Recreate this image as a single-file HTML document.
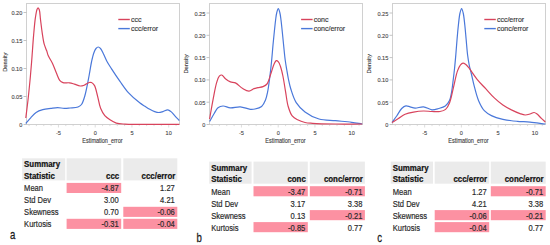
<!DOCTYPE html>
<html><head><meta charset="utf-8"><style>
html,body{margin:0;padding:0;background:#fff;width:550px;height:245px;overflow:hidden}
svg{display:block;font-family:"Liberation Sans", sans-serif}
</style></head><body>
<svg width="550" height="245" viewBox="0 0 550 245">
<rect x="26.5" y="3.5" width="153.0" height="121.0" fill="none" stroke="#d0d0d0" stroke-width="1"/>
<line x1="23.5" y1="124.50" x2="26.5" y2="124.50" stroke="#b5b5b5" stroke-width="0.8"/>
<text transform="translate(22.30,127.00) scale(1.000,1.100)" font-size="5.60" fill="#4a4a4a" text-anchor="end" stroke="#4a4a4a" stroke-width="0.12">0</text>
<line x1="23.5" y1="96.50" x2="26.5" y2="96.50" stroke="#b5b5b5" stroke-width="0.8"/>
<text transform="translate(22.30,99.00) scale(1.000,1.100)" font-size="5.60" fill="#4a4a4a" text-anchor="end" stroke="#4a4a4a" stroke-width="0.12">0.05</text>
<line x1="23.5" y1="68.50" x2="26.5" y2="68.50" stroke="#b5b5b5" stroke-width="0.8"/>
<text transform="translate(22.30,71.00) scale(1.000,1.100)" font-size="5.60" fill="#4a4a4a" text-anchor="end" stroke="#4a4a4a" stroke-width="0.12">0.10</text>
<line x1="23.5" y1="40.50" x2="26.5" y2="40.50" stroke="#b5b5b5" stroke-width="0.8"/>
<text transform="translate(22.30,43.00) scale(1.000,1.100)" font-size="5.60" fill="#4a4a4a" text-anchor="end" stroke="#4a4a4a" stroke-width="0.12">0.15</text>
<line x1="23.5" y1="12.50" x2="26.5" y2="12.50" stroke="#b5b5b5" stroke-width="0.8"/>
<text transform="translate(22.30,15.00) scale(1.000,1.100)" font-size="5.60" fill="#4a4a4a" text-anchor="end" stroke="#4a4a4a" stroke-width="0.12">0.20</text>
<line x1="29.05" y1="124.5" x2="29.05" y2="126.1" stroke="#cfcfcf" stroke-width="0.7"/>
<line x1="36.40" y1="124.5" x2="36.40" y2="126.1" stroke="#cfcfcf" stroke-width="0.7"/>
<line x1="43.75" y1="124.5" x2="43.75" y2="126.1" stroke="#cfcfcf" stroke-width="0.7"/>
<line x1="51.10" y1="124.5" x2="51.10" y2="126.1" stroke="#cfcfcf" stroke-width="0.7"/>
<line x1="58.45" y1="124.5" x2="58.45" y2="127.5" stroke="#cfcfcf" stroke-width="0.7"/>
<line x1="65.80" y1="124.5" x2="65.80" y2="126.1" stroke="#cfcfcf" stroke-width="0.7"/>
<line x1="73.15" y1="124.5" x2="73.15" y2="126.1" stroke="#cfcfcf" stroke-width="0.7"/>
<line x1="80.50" y1="124.5" x2="80.50" y2="126.1" stroke="#cfcfcf" stroke-width="0.7"/>
<line x1="87.85" y1="124.5" x2="87.85" y2="126.1" stroke="#cfcfcf" stroke-width="0.7"/>
<line x1="95.20" y1="124.5" x2="95.20" y2="127.5" stroke="#cfcfcf" stroke-width="0.7"/>
<line x1="102.55" y1="124.5" x2="102.55" y2="126.1" stroke="#cfcfcf" stroke-width="0.7"/>
<line x1="109.90" y1="124.5" x2="109.90" y2="126.1" stroke="#cfcfcf" stroke-width="0.7"/>
<line x1="117.25" y1="124.5" x2="117.25" y2="126.1" stroke="#cfcfcf" stroke-width="0.7"/>
<line x1="124.60" y1="124.5" x2="124.60" y2="126.1" stroke="#cfcfcf" stroke-width="0.7"/>
<line x1="131.95" y1="124.5" x2="131.95" y2="127.5" stroke="#cfcfcf" stroke-width="0.7"/>
<line x1="139.30" y1="124.5" x2="139.30" y2="126.1" stroke="#cfcfcf" stroke-width="0.7"/>
<line x1="146.65" y1="124.5" x2="146.65" y2="126.1" stroke="#cfcfcf" stroke-width="0.7"/>
<line x1="154.00" y1="124.5" x2="154.00" y2="126.1" stroke="#cfcfcf" stroke-width="0.7"/>
<line x1="161.35" y1="124.5" x2="161.35" y2="126.1" stroke="#cfcfcf" stroke-width="0.7"/>
<line x1="168.70" y1="124.5" x2="168.70" y2="127.5" stroke="#cfcfcf" stroke-width="0.7"/>
<line x1="176.05" y1="124.5" x2="176.05" y2="126.1" stroke="#cfcfcf" stroke-width="0.7"/>
<text transform="translate(58.45,134.50) scale(1.000,1.100)" font-size="5.60" fill="#4a4a4a" text-anchor="middle" stroke="#4a4a4a" stroke-width="0.12">-5</text>
<text transform="translate(95.20,134.50) scale(1.000,1.100)" font-size="5.60" fill="#4a4a4a" text-anchor="middle" stroke="#4a4a4a" stroke-width="0.12">0</text>
<text transform="translate(131.95,134.50) scale(1.000,1.100)" font-size="5.60" fill="#4a4a4a" text-anchor="middle" stroke="#4a4a4a" stroke-width="0.12">5</text>
<text transform="translate(168.70,134.50) scale(1.000,1.100)" font-size="5.60" fill="#4a4a4a" text-anchor="middle" stroke="#4a4a4a" stroke-width="0.12">10</text>
<text transform="translate(102.40,142.80) scale(0.875,1.100)" font-size="6.30" fill="#3a3a3a" text-anchor="middle" stroke="#4a4a4a" stroke-width="0.12">Estimation_error</text>
<text x="0" y="0" font-size="5.8" fill="#3a3a3a" stroke="#3a3a3a" stroke-width="0.12" text-anchor="middle" transform="translate(6.5,62.2) rotate(-90)">Density</text>
<path d="M25.80,123.50 C27.43,121.60 28.99,119.64 30.70,117.80 C32.42,115.94 34.05,113.76 36.10,112.40 C38.10,111.08 40.42,110.36 42.80,109.70 C45.33,109.00 48.32,108.76 50.90,108.40 C53.24,108.07 55.37,107.60 57.60,107.60 C59.83,107.60 62.15,108.35 64.30,108.40 C66.27,108.45 67.94,108.20 70.00,108.00 C72.44,107.76 75.95,107.80 78.00,107.00 C79.50,106.42 80.50,105.79 81.50,104.50 C82.95,102.63 83.76,99.52 84.80,96.00 C86.40,90.61 88.01,81.17 89.20,75.00 C90.14,70.16 90.65,65.92 91.50,62.00 C92.21,58.71 92.90,55.45 93.80,53.00 C94.46,51.20 95.11,49.53 96.00,48.50 C96.65,47.75 97.46,47.01 98.20,47.00 C98.96,46.99 99.78,47.72 100.50,48.50 C101.60,49.68 102.49,52.01 103.50,54.00 C104.66,56.29 105.69,59.07 107.00,61.50 C108.32,63.94 109.66,65.91 111.40,68.60 C113.76,72.26 117.08,77.28 120.00,81.40 C122.82,85.37 125.33,89.33 128.60,92.90 C131.97,96.58 136.92,100.74 140.00,103.10 C141.91,104.56 143.26,105.26 144.90,106.30 C146.53,107.33 148.14,108.41 149.80,109.30 C151.41,110.17 153.11,111.06 154.70,111.60 C156.10,112.08 157.43,112.50 158.80,112.50 C160.17,112.50 161.48,112.00 162.90,111.60 C164.47,111.16 166.36,109.79 167.80,109.90 C169.00,109.99 169.94,110.78 171.00,111.60 C172.38,112.67 173.72,114.62 175.10,116.10 C176.48,117.58 177.90,119.03 179.30,120.50" fill="none" stroke="#4a78da" stroke-width="1.20" stroke-linejoin="round"/>
<path d="M25.80,118.00 C26.53,112.00 27.32,106.04 28.00,100.00 C28.69,93.88 29.31,87.75 29.90,81.50 C30.51,75.09 31.03,69.01 31.60,62.00 C32.26,53.82 32.90,43.36 33.60,35.40 C34.18,28.90 34.68,22.52 35.40,17.70 C35.91,14.34 36.41,10.80 37.10,9.20 C37.41,8.49 37.76,7.79 38.10,7.80 C38.49,7.82 38.97,8.83 39.30,9.80 C39.98,11.78 40.06,16.01 40.50,19.50 C41.01,23.58 41.56,28.54 42.20,32.80 C42.80,36.75 43.31,40.95 44.20,44.20 C44.90,46.74 45.98,48.74 46.70,50.80 C47.32,52.57 47.53,54.01 48.30,55.80 C49.28,58.07 51.12,60.52 52.40,63.20 C53.84,66.20 55.10,69.98 56.40,73.00 C57.53,75.62 58.34,78.66 59.70,80.30 C60.67,81.46 61.63,82.15 63.00,82.60 C64.74,83.18 67.50,82.51 69.50,82.80 C71.26,83.06 72.71,83.60 74.40,84.10 C76.24,84.65 78.34,85.89 80.10,86.00 C81.57,86.09 82.81,85.70 84.20,85.20 C85.81,84.62 87.72,82.86 89.10,82.50 C90.01,82.27 90.73,82.18 91.50,82.50 C92.51,82.92 93.56,83.99 94.40,85.40 C95.77,87.69 96.51,92.16 97.50,95.80 C98.58,99.76 99.18,104.77 100.60,108.30 C101.75,111.15 103.11,113.62 104.80,115.60 C106.30,117.36 108.12,118.56 110.00,119.80 C111.94,121.07 113.96,122.38 116.30,123.10 C118.90,123.90 121.70,123.89 125.00,124.10 C129.32,124.38 133.82,124.26 140.00,124.30 C150.01,124.37 166.20,124.30 179.30,124.30" fill="none" stroke="#d8435c" stroke-width="1.20" stroke-linejoin="round"/>
<line x1="118.3" y1="19.5" x2="129.8" y2="19.5" stroke="#d8435c" stroke-width="1.4"/>
<line x1="118.3" y1="28.6" x2="129.8" y2="28.6" stroke="#4a78da" stroke-width="1.4"/>
<text transform="translate(130.90,21.90) scale(1.000,1.140)" font-size="7.00" fill="#3a3a3a" stroke="#3a3a3a" stroke-width="0.15">ccc</text>
<text transform="translate(130.90,31.00) scale(1.000,1.140)" font-size="7.00" fill="#3a3a3a" stroke="#3a3a3a" stroke-width="0.15">ccc/error</text>
<rect x="209.5" y="3.5" width="153.0" height="121.0" fill="none" stroke="#d0d0d0" stroke-width="1"/>
<line x1="206.5" y1="124.50" x2="209.5" y2="124.50" stroke="#b5b5b5" stroke-width="0.8"/>
<text transform="translate(205.30,127.00) scale(1.000,1.100)" font-size="5.60" fill="#4a4a4a" text-anchor="end" stroke="#4a4a4a" stroke-width="0.12">0</text>
<line x1="206.5" y1="102.20" x2="209.5" y2="102.20" stroke="#b5b5b5" stroke-width="0.8"/>
<text transform="translate(205.30,104.70) scale(1.000,1.100)" font-size="5.60" fill="#4a4a4a" text-anchor="end" stroke="#4a4a4a" stroke-width="0.12">0.05</text>
<line x1="206.5" y1="79.90" x2="209.5" y2="79.90" stroke="#b5b5b5" stroke-width="0.8"/>
<text transform="translate(205.30,82.40) scale(1.000,1.100)" font-size="5.60" fill="#4a4a4a" text-anchor="end" stroke="#4a4a4a" stroke-width="0.12">0.10</text>
<line x1="206.5" y1="57.60" x2="209.5" y2="57.60" stroke="#b5b5b5" stroke-width="0.8"/>
<text transform="translate(205.30,60.10) scale(1.000,1.100)" font-size="5.60" fill="#4a4a4a" text-anchor="end" stroke="#4a4a4a" stroke-width="0.12">0.15</text>
<line x1="206.5" y1="35.30" x2="209.5" y2="35.30" stroke="#b5b5b5" stroke-width="0.8"/>
<text transform="translate(205.30,37.80) scale(1.000,1.100)" font-size="5.60" fill="#4a4a4a" text-anchor="end" stroke="#4a4a4a" stroke-width="0.12">0.20</text>
<line x1="206.5" y1="13.00" x2="209.5" y2="13.00" stroke="#b5b5b5" stroke-width="0.8"/>
<text transform="translate(205.30,15.50) scale(1.000,1.100)" font-size="5.60" fill="#4a4a4a" text-anchor="end" stroke="#4a4a4a" stroke-width="0.12">0.25</text>
<line x1="212.05" y1="124.5" x2="212.05" y2="126.1" stroke="#cfcfcf" stroke-width="0.7"/>
<line x1="219.40" y1="124.5" x2="219.40" y2="126.1" stroke="#cfcfcf" stroke-width="0.7"/>
<line x1="226.75" y1="124.5" x2="226.75" y2="126.1" stroke="#cfcfcf" stroke-width="0.7"/>
<line x1="234.10" y1="124.5" x2="234.10" y2="126.1" stroke="#cfcfcf" stroke-width="0.7"/>
<line x1="241.45" y1="124.5" x2="241.45" y2="127.5" stroke="#cfcfcf" stroke-width="0.7"/>
<line x1="248.80" y1="124.5" x2="248.80" y2="126.1" stroke="#cfcfcf" stroke-width="0.7"/>
<line x1="256.15" y1="124.5" x2="256.15" y2="126.1" stroke="#cfcfcf" stroke-width="0.7"/>
<line x1="263.50" y1="124.5" x2="263.50" y2="126.1" stroke="#cfcfcf" stroke-width="0.7"/>
<line x1="270.85" y1="124.5" x2="270.85" y2="126.1" stroke="#cfcfcf" stroke-width="0.7"/>
<line x1="278.20" y1="124.5" x2="278.20" y2="127.5" stroke="#cfcfcf" stroke-width="0.7"/>
<line x1="285.55" y1="124.5" x2="285.55" y2="126.1" stroke="#cfcfcf" stroke-width="0.7"/>
<line x1="292.90" y1="124.5" x2="292.90" y2="126.1" stroke="#cfcfcf" stroke-width="0.7"/>
<line x1="300.25" y1="124.5" x2="300.25" y2="126.1" stroke="#cfcfcf" stroke-width="0.7"/>
<line x1="307.60" y1="124.5" x2="307.60" y2="126.1" stroke="#cfcfcf" stroke-width="0.7"/>
<line x1="314.95" y1="124.5" x2="314.95" y2="127.5" stroke="#cfcfcf" stroke-width="0.7"/>
<line x1="322.30" y1="124.5" x2="322.30" y2="126.1" stroke="#cfcfcf" stroke-width="0.7"/>
<line x1="329.65" y1="124.5" x2="329.65" y2="126.1" stroke="#cfcfcf" stroke-width="0.7"/>
<line x1="337.00" y1="124.5" x2="337.00" y2="126.1" stroke="#cfcfcf" stroke-width="0.7"/>
<line x1="344.35" y1="124.5" x2="344.35" y2="126.1" stroke="#cfcfcf" stroke-width="0.7"/>
<line x1="351.70" y1="124.5" x2="351.70" y2="127.5" stroke="#cfcfcf" stroke-width="0.7"/>
<line x1="359.05" y1="124.5" x2="359.05" y2="126.1" stroke="#cfcfcf" stroke-width="0.7"/>
<text transform="translate(241.45,134.50) scale(1.000,1.100)" font-size="5.60" fill="#4a4a4a" text-anchor="middle" stroke="#4a4a4a" stroke-width="0.12">-5</text>
<text transform="translate(278.20,134.50) scale(1.000,1.100)" font-size="5.60" fill="#4a4a4a" text-anchor="middle" stroke="#4a4a4a" stroke-width="0.12">0</text>
<text transform="translate(314.95,134.50) scale(1.000,1.100)" font-size="5.60" fill="#4a4a4a" text-anchor="middle" stroke="#4a4a4a" stroke-width="0.12">5</text>
<text transform="translate(351.70,134.50) scale(1.000,1.100)" font-size="5.60" fill="#4a4a4a" text-anchor="middle" stroke="#4a4a4a" stroke-width="0.12">10</text>
<text transform="translate(285.40,142.80) scale(0.875,1.100)" font-size="6.30" fill="#3a3a3a" text-anchor="middle" stroke="#4a4a4a" stroke-width="0.12">Estimation_error</text>
<text x="0" y="0" font-size="5.8" fill="#3a3a3a" stroke="#3a3a3a" stroke-width="0.12" text-anchor="middle" transform="translate(188.2,63.9) rotate(-90)">Density</text>
<path d="M209.60,121.50 C211.13,118.83 212.70,115.92 214.20,113.50 C215.49,111.42 216.40,109.05 218.00,107.80 C219.41,106.70 221.15,106.10 223.00,106.00 C225.21,105.88 227.74,107.62 230.40,107.80 C233.44,108.01 237.01,106.56 240.30,106.80 C243.65,107.04 247.57,109.05 250.30,109.30 C252.14,109.47 253.33,109.36 255.00,109.00 C257.04,108.56 259.86,107.95 261.60,106.50 C263.40,105.00 264.51,102.36 265.50,100.00 C266.54,97.54 266.98,95.03 267.60,92.00 C268.40,88.12 268.98,83.31 269.60,78.60 C270.29,73.37 270.94,67.57 271.50,62.00 C272.07,56.37 272.50,50.29 273.00,45.00 C273.44,40.38 273.86,36.25 274.30,32.00 C274.73,27.92 275.13,23.53 275.60,20.00 C275.98,17.20 276.24,14.57 276.80,12.50 C277.21,10.96 277.80,8.60 278.30,8.60 C278.80,8.60 279.39,10.96 279.80,12.50 C280.36,14.57 280.62,17.20 281.00,20.00 C281.47,23.53 281.87,27.92 282.30,32.00 C282.74,36.25 283.14,40.51 283.60,45.00 C284.10,49.82 284.60,55.51 285.20,60.00 C285.69,63.68 286.25,66.76 286.80,70.00 C287.32,73.08 287.75,75.91 288.40,79.00 C289.10,82.33 289.75,85.69 290.90,89.30 C292.24,93.50 293.75,98.76 296.20,102.60 C298.52,106.23 301.46,109.26 305.00,111.90 C308.92,114.83 314.00,117.53 319.00,119.00 C324.12,120.51 329.94,120.15 335.40,120.70 C340.84,121.25 346.87,121.67 351.70,122.30 C355.59,122.81 358.70,123.43 362.20,124.00" fill="none" stroke="#4a78da" stroke-width="1.20" stroke-linejoin="round"/>
<path d="M209.60,119.00 C210.73,112.60 211.79,106.03 213.00,99.80 C214.16,93.85 215.36,86.69 216.70,82.40 C217.53,79.76 218.19,77.39 219.30,76.20 C220.00,75.45 220.87,74.86 221.70,75.00 C222.87,75.19 224.01,77.58 225.40,78.70 C226.88,79.89 228.67,81.20 230.40,81.90 C232.01,82.55 233.67,82.11 235.40,82.90 C237.75,83.97 240.35,87.20 242.80,88.60 C244.88,89.79 247.06,91.18 249.00,91.10 C250.77,91.03 252.39,89.19 254.00,88.60 C255.38,88.09 256.59,87.92 258.00,87.60 C259.57,87.25 261.48,87.22 263.00,86.60 C264.47,86.00 265.85,85.43 267.00,84.00 C268.78,81.79 269.78,76.75 271.00,73.30 C272.13,70.10 273.00,66.29 274.10,64.00 C274.81,62.53 275.47,60.80 276.30,60.60 C276.94,60.44 277.79,61.13 278.40,61.80 C279.29,62.78 279.85,64.63 280.50,66.50 C281.40,69.08 282.14,72.41 282.90,76.00 C283.87,80.60 284.70,86.71 285.60,91.90 C286.46,96.87 286.93,102.23 288.20,106.50 C289.25,110.04 290.37,113.61 292.20,115.90 C293.68,117.75 295.58,118.73 297.60,119.80 C299.80,120.97 302.49,121.92 305.00,122.50 C307.46,123.07 309.31,123.08 312.50,123.30 C318.05,123.68 327.47,123.88 335.40,124.00 C343.98,124.13 353.27,124.00 362.20,124.00" fill="none" stroke="#d8435c" stroke-width="1.20" stroke-linejoin="round"/>
<line x1="301.1" y1="19.5" x2="312.6" y2="19.5" stroke="#d8435c" stroke-width="1.4"/>
<line x1="301.1" y1="28.6" x2="312.6" y2="28.6" stroke="#4a78da" stroke-width="1.4"/>
<text transform="translate(313.70,21.90) scale(1.000,1.140)" font-size="7.00" fill="#3a3a3a" stroke="#3a3a3a" stroke-width="0.15">conc</text>
<text transform="translate(313.70,31.00) scale(1.000,1.140)" font-size="7.00" fill="#3a3a3a" stroke="#3a3a3a" stroke-width="0.15">conc/error</text>
<rect x="392.5" y="3.5" width="153.0" height="121.0" fill="none" stroke="#d0d0d0" stroke-width="1"/>
<line x1="389.5" y1="124.50" x2="392.5" y2="124.50" stroke="#b5b5b5" stroke-width="0.8"/>
<text transform="translate(388.30,127.00) scale(1.000,1.100)" font-size="5.60" fill="#4a4a4a" text-anchor="end" stroke="#4a4a4a" stroke-width="0.12">0</text>
<line x1="389.5" y1="102.20" x2="392.5" y2="102.20" stroke="#b5b5b5" stroke-width="0.8"/>
<text transform="translate(388.30,104.70) scale(1.000,1.100)" font-size="5.60" fill="#4a4a4a" text-anchor="end" stroke="#4a4a4a" stroke-width="0.12">0.05</text>
<line x1="389.5" y1="79.90" x2="392.5" y2="79.90" stroke="#b5b5b5" stroke-width="0.8"/>
<text transform="translate(388.30,82.40) scale(1.000,1.100)" font-size="5.60" fill="#4a4a4a" text-anchor="end" stroke="#4a4a4a" stroke-width="0.12">0.10</text>
<line x1="389.5" y1="57.60" x2="392.5" y2="57.60" stroke="#b5b5b5" stroke-width="0.8"/>
<text transform="translate(388.30,60.10) scale(1.000,1.100)" font-size="5.60" fill="#4a4a4a" text-anchor="end" stroke="#4a4a4a" stroke-width="0.12">0.15</text>
<line x1="389.5" y1="35.30" x2="392.5" y2="35.30" stroke="#b5b5b5" stroke-width="0.8"/>
<text transform="translate(388.30,37.80) scale(1.000,1.100)" font-size="5.60" fill="#4a4a4a" text-anchor="end" stroke="#4a4a4a" stroke-width="0.12">0.20</text>
<line x1="389.5" y1="13.00" x2="392.5" y2="13.00" stroke="#b5b5b5" stroke-width="0.8"/>
<text transform="translate(388.30,15.50) scale(1.000,1.100)" font-size="5.60" fill="#4a4a4a" text-anchor="end" stroke="#4a4a4a" stroke-width="0.12">0.25</text>
<line x1="395.25" y1="124.5" x2="395.25" y2="126.1" stroke="#cfcfcf" stroke-width="0.7"/>
<line x1="402.60" y1="124.5" x2="402.60" y2="126.1" stroke="#cfcfcf" stroke-width="0.7"/>
<line x1="409.95" y1="124.5" x2="409.95" y2="126.1" stroke="#cfcfcf" stroke-width="0.7"/>
<line x1="417.30" y1="124.5" x2="417.30" y2="126.1" stroke="#cfcfcf" stroke-width="0.7"/>
<line x1="424.65" y1="124.5" x2="424.65" y2="127.5" stroke="#cfcfcf" stroke-width="0.7"/>
<line x1="432.00" y1="124.5" x2="432.00" y2="126.1" stroke="#cfcfcf" stroke-width="0.7"/>
<line x1="439.35" y1="124.5" x2="439.35" y2="126.1" stroke="#cfcfcf" stroke-width="0.7"/>
<line x1="446.70" y1="124.5" x2="446.70" y2="126.1" stroke="#cfcfcf" stroke-width="0.7"/>
<line x1="454.05" y1="124.5" x2="454.05" y2="126.1" stroke="#cfcfcf" stroke-width="0.7"/>
<line x1="461.40" y1="124.5" x2="461.40" y2="127.5" stroke="#cfcfcf" stroke-width="0.7"/>
<line x1="468.75" y1="124.5" x2="468.75" y2="126.1" stroke="#cfcfcf" stroke-width="0.7"/>
<line x1="476.10" y1="124.5" x2="476.10" y2="126.1" stroke="#cfcfcf" stroke-width="0.7"/>
<line x1="483.45" y1="124.5" x2="483.45" y2="126.1" stroke="#cfcfcf" stroke-width="0.7"/>
<line x1="490.80" y1="124.5" x2="490.80" y2="126.1" stroke="#cfcfcf" stroke-width="0.7"/>
<line x1="498.15" y1="124.5" x2="498.15" y2="127.5" stroke="#cfcfcf" stroke-width="0.7"/>
<line x1="505.50" y1="124.5" x2="505.50" y2="126.1" stroke="#cfcfcf" stroke-width="0.7"/>
<line x1="512.85" y1="124.5" x2="512.85" y2="126.1" stroke="#cfcfcf" stroke-width="0.7"/>
<line x1="520.20" y1="124.5" x2="520.20" y2="126.1" stroke="#cfcfcf" stroke-width="0.7"/>
<line x1="527.55" y1="124.5" x2="527.55" y2="126.1" stroke="#cfcfcf" stroke-width="0.7"/>
<line x1="534.90" y1="124.5" x2="534.90" y2="127.5" stroke="#cfcfcf" stroke-width="0.7"/>
<line x1="542.25" y1="124.5" x2="542.25" y2="126.1" stroke="#cfcfcf" stroke-width="0.7"/>
<text transform="translate(424.65,134.50) scale(1.000,1.100)" font-size="5.60" fill="#4a4a4a" text-anchor="middle" stroke="#4a4a4a" stroke-width="0.12">-5</text>
<text transform="translate(461.40,134.50) scale(1.000,1.100)" font-size="5.60" fill="#4a4a4a" text-anchor="middle" stroke="#4a4a4a" stroke-width="0.12">0</text>
<text transform="translate(498.15,134.50) scale(1.000,1.100)" font-size="5.60" fill="#4a4a4a" text-anchor="middle" stroke="#4a4a4a" stroke-width="0.12">5</text>
<text transform="translate(534.90,134.50) scale(1.000,1.100)" font-size="5.60" fill="#4a4a4a" text-anchor="middle" stroke="#4a4a4a" stroke-width="0.12">10</text>
<text transform="translate(468.40,142.80) scale(0.875,1.100)" font-size="6.30" fill="#3a3a3a" text-anchor="middle" stroke="#4a4a4a" stroke-width="0.12">Estimation_error</text>
<text x="0" y="0" font-size="5.8" fill="#3a3a3a" stroke="#3a3a3a" stroke-width="0.12" text-anchor="middle" transform="translate(371.4,63.8) rotate(-90)">Density</text>
<path d="M392.00,122.50 C393.57,120.33 395.13,118.26 396.70,116.00 C398.36,113.60 399.90,110.24 401.70,108.50 C403.03,107.21 404.45,106.15 405.90,105.90 C407.25,105.67 408.64,106.45 410.10,106.80 C411.70,107.18 413.21,108.00 415.10,108.10 C417.53,108.22 420.73,106.54 423.50,106.80 C426.33,107.07 429.23,109.60 431.90,109.80 C434.23,109.98 436.39,109.14 438.60,108.50 C440.86,107.85 443.47,107.26 445.30,105.90 C447.08,104.57 448.47,102.63 449.50,100.50 C450.67,98.09 451.01,95.09 451.60,92.00 C452.29,88.36 452.70,84.00 453.20,80.00 C453.70,76.00 454.17,72.08 454.60,68.00 C455.04,63.76 455.41,59.49 455.80,55.00 C456.22,50.18 456.57,45.00 457.00,40.00 C457.43,35.00 457.87,29.72 458.40,25.00 C458.88,20.77 459.27,15.99 460.00,13.00 C460.46,11.14 461.07,8.60 461.60,8.60 C462.13,8.60 462.74,11.14 463.20,13.00 C463.93,15.99 464.32,20.77 464.80,25.00 C465.33,29.72 465.73,35.00 466.20,40.00 C466.67,45.00 467.03,50.51 467.60,55.00 C468.07,58.68 468.55,61.77 469.20,65.00 C469.82,68.09 470.62,70.76 471.40,74.00 C472.31,77.80 473.16,82.14 474.30,86.40 C475.53,91.02 476.78,96.45 478.60,100.70 C480.20,104.43 481.95,108.14 484.30,110.70 C486.33,112.91 488.63,114.24 491.40,115.60 C494.67,117.21 498.82,118.36 502.90,119.30 C507.34,120.32 512.47,120.83 517.10,121.30 C521.49,121.75 525.52,121.68 530.00,122.10 C534.89,122.55 540.20,123.37 545.30,124.00" fill="none" stroke="#4a78da" stroke-width="1.20" stroke-linejoin="round"/>
<path d="M392.00,122.50 C394.13,121.17 396.24,119.85 398.40,118.50 C400.61,117.12 402.65,115.36 405.10,114.30 C407.66,113.19 410.56,112.64 413.50,112.10 C416.67,111.51 420.31,111.08 423.50,111.00 C426.42,110.93 429.12,111.42 431.90,111.50 C434.62,111.58 437.58,111.94 440.00,111.50 C442.08,111.12 444.06,110.69 445.60,109.40 C447.36,107.93 448.44,105.51 449.60,102.70 C451.29,98.62 452.28,92.10 453.60,86.80 C454.92,81.50 456.05,74.90 457.50,70.90 C458.44,68.33 459.35,66.12 460.50,64.80 C461.27,63.92 462.14,63.18 463.00,63.10 C463.81,63.03 464.69,63.64 465.50,64.20 C466.50,64.90 467.24,65.81 468.40,67.20 C470.60,69.83 474.10,75.60 477.10,79.30 C479.88,82.72 482.82,85.59 485.70,88.70 C488.56,91.79 491.34,95.12 494.30,97.90 C497.08,100.52 499.95,102.96 502.90,105.00 C505.66,106.92 508.52,108.45 511.40,109.90 C514.22,111.31 517.46,112.72 520.00,113.60 C521.92,114.27 523.50,114.95 525.20,115.00 C526.83,115.05 528.48,114.43 530.00,114.00 C531.44,113.59 532.86,112.41 534.10,112.50 C535.20,112.58 536.07,113.34 537.10,114.10 C538.48,115.12 539.99,117.04 541.40,118.40 C542.72,119.67 544.00,120.80 545.30,122.00" fill="none" stroke="#d8435c" stroke-width="1.20" stroke-linejoin="round"/>
<line x1="484.3" y1="19.5" x2="495.8" y2="19.5" stroke="#d8435c" stroke-width="1.4"/>
<line x1="484.3" y1="28.6" x2="495.8" y2="28.6" stroke="#4a78da" stroke-width="1.4"/>
<text transform="translate(496.90,21.90) scale(1.000,1.140)" font-size="7.00" fill="#3a3a3a" stroke="#3a3a3a" stroke-width="0.15">ccc/error</text>
<text transform="translate(496.90,31.00) scale(1.000,1.140)" font-size="7.00" fill="#3a3a3a" stroke="#3a3a3a" stroke-width="0.15">conc/error</text>
<rect x="22.1" y="158.3" width="43.1" height="22.1" fill="#ebebeb"/>
<rect x="66.6" y="158.3" width="54.6" height="22.1" fill="#ebebeb"/>
<rect x="123.3" y="158.3" width="54.0" height="22.1" fill="#ebebeb"/>
<text transform="translate(24.10,167.40) scale(0.940,1.050)" font-size="8.40" fill="#111" font-weight="bold" stroke="#111" stroke-width="0.2">Summary</text>
<text transform="translate(24.10,178.80) scale(0.940,1.050)" font-size="8.40" fill="#111" font-weight="bold" stroke="#111" stroke-width="0.2">Statistic</text>
<text transform="translate(119.20,178.80) scale(0.940,1.050)" font-size="8.40" fill="#111" font-weight="bold" text-anchor="end" stroke="#111" stroke-width="0.2">ccc</text>
<text transform="translate(175.30,178.80) scale(0.940,1.050)" font-size="8.40" fill="#111" font-weight="bold" text-anchor="end" stroke="#111" stroke-width="0.2">ccc/error</text>
<rect x="66.6" y="182.9" width="54.6" height="10.1" fill="#fc91a2"/>
<text transform="translate(24.10,191.00) scale(0.900,1.050)" font-size="8.40" fill="#2a2a2a" stroke="#2a2a2a" stroke-width="0.18">Mean</text>
<text transform="translate(118.70,191.00) scale(0.900,1.050)" font-size="8.40" fill="#2a2a2a" text-anchor="end" stroke="#2a2a2a" stroke-width="0.18">-4.87</text>
<text transform="translate(174.80,191.00) scale(0.900,1.050)" font-size="8.40" fill="#2a2a2a" text-anchor="end" stroke="#2a2a2a" stroke-width="0.18">1.27</text>
<text transform="translate(24.10,203.10) scale(0.900,1.050)" font-size="8.40" fill="#2a2a2a" stroke="#2a2a2a" stroke-width="0.18">Std Dev</text>
<text transform="translate(118.70,203.10) scale(0.900,1.050)" font-size="8.40" fill="#2a2a2a" text-anchor="end" stroke="#2a2a2a" stroke-width="0.18">3.00</text>
<text transform="translate(174.80,203.10) scale(0.900,1.050)" font-size="8.40" fill="#2a2a2a" text-anchor="end" stroke="#2a2a2a" stroke-width="0.18">4.21</text>
<rect x="123.3" y="206.8" width="54.0" height="10.1" fill="#fc91a2"/>
<text transform="translate(24.10,215.20) scale(0.900,1.050)" font-size="8.40" fill="#2a2a2a" stroke="#2a2a2a" stroke-width="0.18">Skewness</text>
<text transform="translate(118.70,215.20) scale(0.900,1.050)" font-size="8.40" fill="#2a2a2a" text-anchor="end" stroke="#2a2a2a" stroke-width="0.18">0.70</text>
<text transform="translate(174.80,215.20) scale(0.900,1.050)" font-size="8.40" fill="#2a2a2a" text-anchor="end" stroke="#2a2a2a" stroke-width="0.18">-0.06</text>
<rect x="66.6" y="218.8" width="54.6" height="10.1" fill="#fc91a2"/>
<rect x="123.3" y="218.8" width="54.0" height="10.1" fill="#fc91a2"/>
<text transform="translate(24.10,227.30) scale(0.900,1.050)" font-size="8.40" fill="#2a2a2a" stroke="#2a2a2a" stroke-width="0.18">Kurtosis</text>
<text transform="translate(118.70,227.30) scale(0.900,1.050)" font-size="8.40" fill="#2a2a2a" text-anchor="end" stroke="#2a2a2a" stroke-width="0.18">-0.31</text>
<text transform="translate(174.80,227.30) scale(0.900,1.050)" font-size="8.40" fill="#2a2a2a" text-anchor="end" stroke="#2a2a2a" stroke-width="0.18">-0.04</text>
<text transform="translate(10.10,238.60) scale(0.800,1.050)" font-size="12.00" fill="#1a1a1a" stroke="#1a1a1a" stroke-width="0.25">a</text>
<rect x="209.2" y="161.6" width="42.4" height="22.1" fill="#ebebeb"/>
<rect x="253.5" y="161.6" width="54.3" height="22.1" fill="#ebebeb"/>
<rect x="309.8" y="161.6" width="55.1" height="22.1" fill="#ebebeb"/>
<text transform="translate(211.20,171.10) scale(0.940,1.050)" font-size="8.40" fill="#111" font-weight="bold" stroke="#111" stroke-width="0.2">Summary</text>
<text transform="translate(211.20,182.10) scale(0.940,1.050)" font-size="8.40" fill="#111" font-weight="bold" stroke="#111" stroke-width="0.2">Statistic</text>
<text transform="translate(305.80,182.10) scale(0.940,1.050)" font-size="8.40" fill="#111" font-weight="bold" text-anchor="end" stroke="#111" stroke-width="0.2">conc</text>
<text transform="translate(362.90,182.10) scale(0.940,1.050)" font-size="8.40" fill="#111" font-weight="bold" text-anchor="end" stroke="#111" stroke-width="0.2">conc/error</text>
<rect x="253.5" y="186.2" width="54.3" height="10.1" fill="#fc91a2"/>
<rect x="309.8" y="186.2" width="55.1" height="10.1" fill="#fc91a2"/>
<text transform="translate(211.20,194.50) scale(0.900,1.050)" font-size="8.40" fill="#2a2a2a" stroke="#2a2a2a" stroke-width="0.18">Mean</text>
<text transform="translate(305.30,194.50) scale(0.900,1.050)" font-size="8.40" fill="#2a2a2a" text-anchor="end" stroke="#2a2a2a" stroke-width="0.18">-3.47</text>
<text transform="translate(362.40,194.50) scale(0.900,1.050)" font-size="8.40" fill="#2a2a2a" text-anchor="end" stroke="#2a2a2a" stroke-width="0.18">-0.71</text>
<text transform="translate(211.20,206.50) scale(0.900,1.050)" font-size="8.40" fill="#2a2a2a" stroke="#2a2a2a" stroke-width="0.18">Std Dev</text>
<text transform="translate(305.30,206.50) scale(0.900,1.050)" font-size="8.40" fill="#2a2a2a" text-anchor="end" stroke="#2a2a2a" stroke-width="0.18">3.17</text>
<text transform="translate(362.40,206.50) scale(0.900,1.050)" font-size="8.40" fill="#2a2a2a" text-anchor="end" stroke="#2a2a2a" stroke-width="0.18">3.38</text>
<rect x="309.8" y="210.1" width="55.1" height="10.1" fill="#fc91a2"/>
<text transform="translate(211.20,218.50) scale(0.900,1.050)" font-size="8.40" fill="#2a2a2a" stroke="#2a2a2a" stroke-width="0.18">Skewness</text>
<text transform="translate(305.30,218.50) scale(0.900,1.050)" font-size="8.40" fill="#2a2a2a" text-anchor="end" stroke="#2a2a2a" stroke-width="0.18">0.13</text>
<text transform="translate(362.40,218.50) scale(0.900,1.050)" font-size="8.40" fill="#2a2a2a" text-anchor="end" stroke="#2a2a2a" stroke-width="0.18">-0.21</text>
<rect x="253.5" y="222.1" width="54.3" height="10.1" fill="#fc91a2"/>
<text transform="translate(211.20,230.50) scale(0.900,1.050)" font-size="8.40" fill="#2a2a2a" stroke="#2a2a2a" stroke-width="0.18">Kurtosis</text>
<text transform="translate(305.30,230.50) scale(0.900,1.050)" font-size="8.40" fill="#2a2a2a" text-anchor="end" stroke="#2a2a2a" stroke-width="0.18">-0.85</text>
<text transform="translate(362.40,230.50) scale(0.900,1.050)" font-size="8.40" fill="#2a2a2a" text-anchor="end" stroke="#2a2a2a" stroke-width="0.18">0.77</text>
<text transform="translate(196.60,241.70) scale(0.800,1.050)" font-size="12.00" fill="#1a1a1a" stroke="#1a1a1a" stroke-width="0.25">b</text>
<rect x="390.7" y="161.6" width="42.3" height="22.1" fill="#ebebeb"/>
<rect x="434.7" y="161.6" width="54.5" height="22.1" fill="#ebebeb"/>
<rect x="490.8" y="161.6" width="54.9" height="22.1" fill="#ebebeb"/>
<text transform="translate(392.70,171.10) scale(0.940,1.050)" font-size="8.40" fill="#111" font-weight="bold" stroke="#111" stroke-width="0.2">Summary</text>
<text transform="translate(392.70,182.10) scale(0.940,1.050)" font-size="8.40" fill="#111" font-weight="bold" stroke="#111" stroke-width="0.2">Statistic</text>
<text transform="translate(487.20,182.10) scale(0.940,1.050)" font-size="8.40" fill="#111" font-weight="bold" text-anchor="end" stroke="#111" stroke-width="0.2">ccc/error</text>
<text transform="translate(543.70,182.10) scale(0.940,1.050)" font-size="8.40" fill="#111" font-weight="bold" text-anchor="end" stroke="#111" stroke-width="0.2">conc/error</text>
<rect x="490.8" y="186.2" width="54.9" height="10.1" fill="#fc91a2"/>
<text transform="translate(392.70,194.50) scale(0.900,1.050)" font-size="8.40" fill="#2a2a2a" stroke="#2a2a2a" stroke-width="0.18">Mean</text>
<text transform="translate(486.70,194.50) scale(0.900,1.050)" font-size="8.40" fill="#2a2a2a" text-anchor="end" stroke="#2a2a2a" stroke-width="0.18">1.27</text>
<text transform="translate(543.20,194.50) scale(0.900,1.050)" font-size="8.40" fill="#2a2a2a" text-anchor="end" stroke="#2a2a2a" stroke-width="0.18">-0.71</text>
<text transform="translate(392.70,206.50) scale(0.900,1.050)" font-size="8.40" fill="#2a2a2a" stroke="#2a2a2a" stroke-width="0.18">Std Dev</text>
<text transform="translate(486.70,206.50) scale(0.900,1.050)" font-size="8.40" fill="#2a2a2a" text-anchor="end" stroke="#2a2a2a" stroke-width="0.18">4.21</text>
<text transform="translate(543.20,206.50) scale(0.900,1.050)" font-size="8.40" fill="#2a2a2a" text-anchor="end" stroke="#2a2a2a" stroke-width="0.18">3.38</text>
<rect x="434.7" y="210.1" width="54.5" height="10.1" fill="#fc91a2"/>
<rect x="490.8" y="210.1" width="54.9" height="10.1" fill="#fc91a2"/>
<text transform="translate(392.70,218.50) scale(0.900,1.050)" font-size="8.40" fill="#2a2a2a" stroke="#2a2a2a" stroke-width="0.18">Skewness</text>
<text transform="translate(486.70,218.50) scale(0.900,1.050)" font-size="8.40" fill="#2a2a2a" text-anchor="end" stroke="#2a2a2a" stroke-width="0.18">-0.06</text>
<text transform="translate(543.20,218.50) scale(0.900,1.050)" font-size="8.40" fill="#2a2a2a" text-anchor="end" stroke="#2a2a2a" stroke-width="0.18">-0.21</text>
<rect x="434.7" y="222.1" width="54.5" height="10.1" fill="#fc91a2"/>
<text transform="translate(392.70,230.50) scale(0.900,1.050)" font-size="8.40" fill="#2a2a2a" stroke="#2a2a2a" stroke-width="0.18">Kurtosis</text>
<text transform="translate(486.70,230.50) scale(0.900,1.050)" font-size="8.40" fill="#2a2a2a" text-anchor="end" stroke="#2a2a2a" stroke-width="0.18">-0.04</text>
<text transform="translate(543.20,230.50) scale(0.900,1.050)" font-size="8.40" fill="#2a2a2a" text-anchor="end" stroke="#2a2a2a" stroke-width="0.18">0.77</text>
<text transform="translate(377.30,241.70) scale(0.800,1.050)" font-size="12.00" fill="#1a1a1a" stroke="#1a1a1a" stroke-width="0.25">c</text>
</svg>
</body></html>
